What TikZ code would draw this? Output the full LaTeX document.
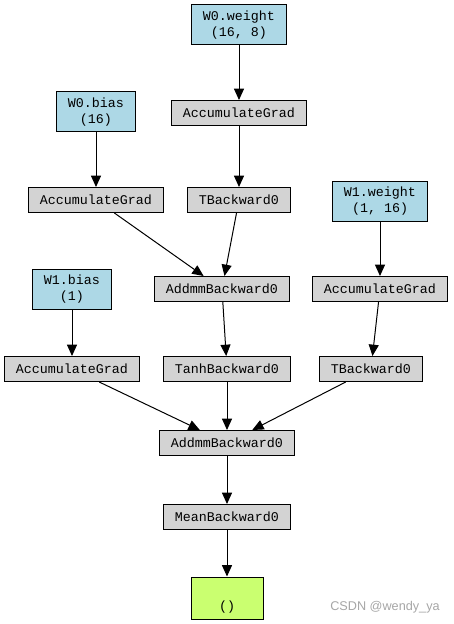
\documentclass[tikz,border=0pt]{standalone}
\usepackage{fontspec}
\setmonofont{Liberation Mono}
\newfontfamily\markfont{Liberation Sans}
\usetikzlibrary{arrows.meta}
\definecolor{parambg}{RGB}{173,216,230}
\definecolor{opbg}{RGB}{211,211,211}
\definecolor{outbg}{RGB}{202,255,112}
\tikzset{
    box/.style={draw=black, line width=0.75pt, align=center,
        font=\ttfamily\fontsize{10}{12}\selectfont,
        inner xsep=8.25pt, inner ysep=2pt},
    param/.style={box, fill=parambg, minimum height=30pt},
    op/.style={box, fill=opbg, minimum height=18.75pt},
    result/.style={box, fill=outbg, minimum width=54pt, minimum height=31.5pt},
    edge/.style={line width=0.75pt, -{Triangle[length=8.5pt, width=7.5pt]}}
}
\begin{document}
\begin{tikzpicture}[x=0.75pt, y=-0.75pt]
        \useasboundingbox (0,0) rectangle (453,624);
        % leaves
        \node[param] (w0weight) at (239,25) {W0.weight\\(16, 8)};
        \node[param] (w0bias) at (96,112) {W0.bias\\(16)};
        \node[param] (w1weight) at (380,201) {W1.weight\\(1, 16)};
        \node[param] (w1bias) at (72,289) {W1.bias\\(1)};
        % grad ops
        \node[op] (agw0) at (239,113) {AccumulateGrad};
        \node[op] (agb0) at (96,200) {AccumulateGrad};
        \node[op] (tb0) at (239,200) {TBackward0};
        \node[op] (addmm0) at (222,289) {AddmmBackward0};
        \node[op] (agw1) at (380,289) {AccumulateGrad};
        \node[op] (agb1) at (72,369) {AccumulateGrad};
        \node[op] (tanh) at (227,369) {TanhBackward0};
        \node[op] (tb1) at (371,369) {TBackward0};
        \node[op] (addmm1) at (227,443) {AddmmBackward0};
        \node[op] (mean) at (227,517) {MeanBackward0};
        \node[result] (loss) at (227,598) {\strut\\()};
        % edges
        \draw[edge] (w0weight) -- (agw0);
        \draw[edge] (agw0) -- (tb0);
        \draw[edge] (w0bias) -- (agb0);
        \draw[edge] (agb0) -- (addmm0);
        \draw[edge] (tb0) -- (addmm0);
        \draw[edge] (w1weight) -- (agw1);
        \draw[edge] (agw1) -- (tb1);
        \draw[edge] (addmm0) -- (tanh);
        \draw[edge] (w1bias) -- (agb1);
        \draw[edge] (agb1) -- (addmm1);
        \draw[edge] (tanh) -- (addmm1);
        \draw[edge] (tb1) -- (addmm1);
        \draw[edge] (addmm1) -- (mean);
        \draw[edge] (mean) -- (loss);
        \node[text=black!35, font=\markfont\fontsize{9.5}{11}\selectfont] (mark) at (385,607) {CSDN @wendy\_ya};
    \end{tikzpicture}
\end{document}
